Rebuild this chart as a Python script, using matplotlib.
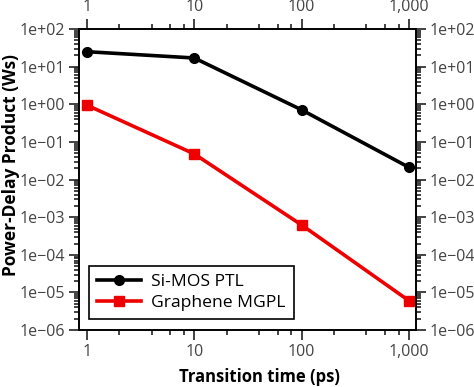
import numpy as np
import matplotlib
matplotlib.use("Agg")
import matplotlib.pyplot as plt
from matplotlib import ticker

plt.rcParams['font.family'] = ['Open Sans', 'DejaVu Sans']

# data
transition_ps = [1, 10, 100, 1000]
si_mos_ptl = [25, 17, 0.71, 0.021]
graphene_mgpl = [0.95, 0.048, 6.2e-4, 6.0e-6]
x_ticks = [1, 10, 100, 1000]
x_tick_labels = ["1", "10", "100", "1,000"]
y_ticks = [1e2, 1e1, 1e0, 1e-1, 1e-2, 1e-3, 1e-4, 1e-5, 1e-6]
y_tick_labels = ["1e+02", "1e+01", "1e+00", "1e\u221201", "1e\u221202",
                 "1e\u221203", "1e\u221204", "1e\u221205", "1e\u221206"]

fig = plt.figure(figsize=(4.74, 3.87), dpi=100)
ax = fig.add_axes([0.1667, 0.147, 0.711, 0.778])

ax.plot(transition_ps, si_mos_ptl, color="black", lw=2.6, marker="o", ms=7,
        label="Si-MOS PTL")
ax.plot(transition_ps, graphene_mgpl, color="#ee0000", lw=2.6, marker="s", ms=6.5,
        label="Graphene MGPL")

ax.set_xscale("log")
ax.set_yscale("log")
ax.set_xlim(0.845, 1160)
ax.set_ylim(1e-6, 1e2)

ax.set_xticks(x_ticks)
ax.set_xticklabels(x_tick_labels)
ax.xaxis.set_minor_locator(ticker.LogLocator(base=10, subs=[2, 4, 6, 8]))
ax.xaxis.set_minor_formatter(ticker.NullFormatter())
ax.set_yticks(y_ticks)
ax.set_yticklabels(y_tick_labels)
ax.yaxis.set_minor_locator(ticker.LogLocator(base=10, subs=np.arange(2, 10), numticks=20))
ax.yaxis.set_minor_formatter(ticker.NullFormatter())

ax.tick_params(which="both", direction="out", top=True, right=True,
               labeltop=True, labelright=True, labelsize=11.5, labelcolor="#444444",
               width=1.2, color="#222222")
ax.tick_params(which="major", length=7, pad=3)
ax.tick_params(which="minor", length=3.5)
for s in ax.spines.values():
    s.set_linewidth(1.4)

ax.set_xlabel("Transition time (ps)", fontsize=12, fontweight="bold")
ax.xaxis.set_label_coords(0.534, -0.125)
ax.set_ylabel("Power-Delay Product (Ws)", fontsize=12.5, fontweight="bold")
ax.yaxis.set_label_coords(-0.175, 0.55)

leg = ax.legend(loc="lower left", fontsize=12.6, frameon=True, fancybox=False,
                edgecolor="black", framealpha=1, handlelength=2.5,
                bbox_to_anchor=(0.03, 0.036), borderaxespad=0,
                borderpad=0.45, labelspacing=0.3, handletextpad=0.6)
leg.get_frame().set_linewidth(1.2)

fig.savefig("out.png", dpi=100)
